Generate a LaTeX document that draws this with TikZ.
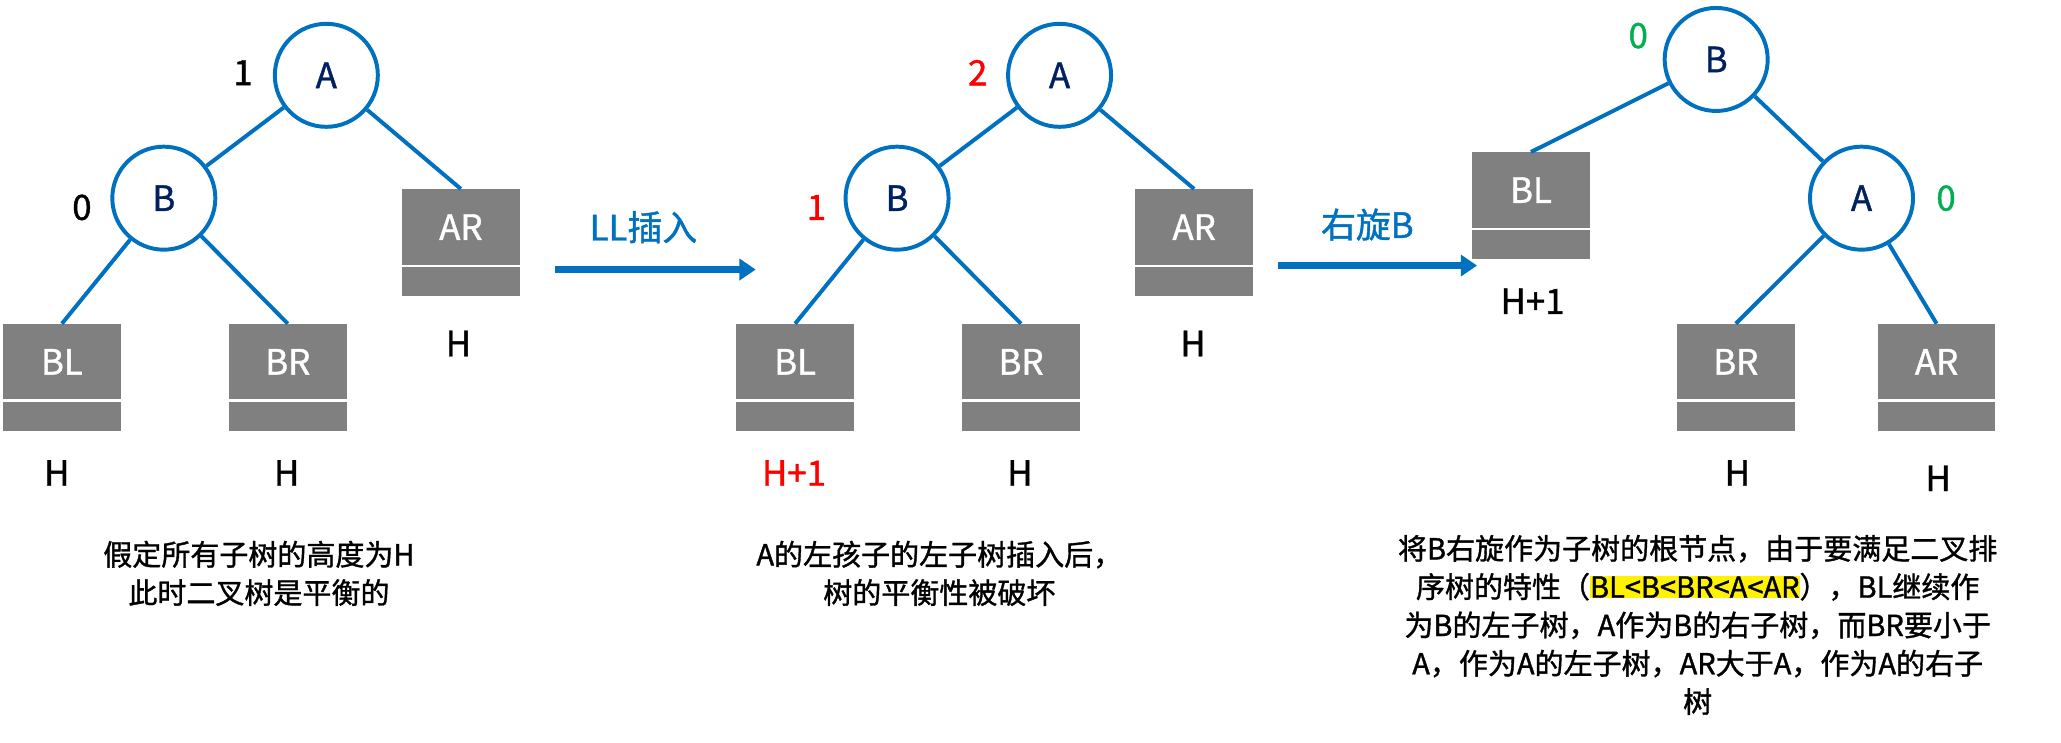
\documentclass[tikz,border=0pt]{standalone}
\usepackage{fontspec}
\setmainfont{Noto Sans CJK SC}[FakeBold=1.2]
\usetikzlibrary{arrows.meta}
\definecolor{cblue}{HTML}{0070C0}
\definecolor{navy}{HTML}{002060}
\definecolor{cgreen}{HTML}{00B050}
\begin{document}
\begin{tikzpicture}[x=0.02cm,y=-0.02cm,
  circ/.style={circle,draw=cblue,line width=1.7pt,minimum size=1.56cm,inner sep=0pt,font=\fontsize{15}{16}\selectfont,text=navy},
  sub/.style={fill=black!50,minimum width=1.78cm,minimum height=1.14cm,inner sep=0pt,text=white,font=\fontsize{15}{16}\selectfont,anchor=north west},
  low/.style={fill=black!50,minimum width=1.78cm,minimum height=0.44cm,inner sep=0pt,anchor=north west},
  edge/.style={cblue,line width=1.7pt},
  lab/.style={font=\fontsize{15}{16}\selectfont},
  txt/.style={font=\fontsize{12.5}{16.5}\selectfont,align=center},
  arr/.style={cblue,line width=3pt,-{Triangle[length=7pt,width=9pt]}}]
\useasboundingbox (0,0) rectangle (1560,562);
% panel 1
\node[circ] (A1) at (247,57) {A};
\node[circ] (B1) at (124,150) {B};
\node[sub] (AR1) at (304,143) {AR}; \node[low] (ARl1) at (304,202) {};
\node[sub] (BL1) at (2,245) {BL}; \node[low] (BLl1) at (2,304) {};
\node[sub] (BR1) at (173,245) {BR}; \node[low] (BRl1) at (173,304) {};
\draw[edge] (A1) -- (B1);
\draw[edge] (A1) -- (AR1.north);
\draw[edge] (B1) -- (BL1.north);
\draw[edge] (B1) -- (BR1.north);
\node[lab] (n1) at (184,55) {1};
\node[lab] (n0) at (62,157) {0};
\node[lab] (h1) at (347,260) {H};
\node[lab] (h2) at (43,358) {H};
\node[lab] (h3) at (217,358) {H};
\node[txt] (t1) at (196,434) {假定所有子树的高度为H\\此时二叉树是平衡的};
% arrow 1
\coordinate (a1s) at (420,204); \coordinate (a1e) at (572,204);
\draw[arr] (a1s) -- (a1e);
\node[lab,text=cblue] (l1) at (487,172) {LL插入};
% panel 2
\node[circ] (A2) at (802,57) {A};
\node[circ] (B2) at (679,150) {B};
\node[sub] (AR2) at (859,143) {AR}; \node[low] (ARl2) at (859,202) {};
\node[sub] (BL2) at (557,245) {BL}; \node[low] (BLl2) at (557,304) {};
\node[sub] (BR2) at (728,245) {BR}; \node[low] (BRl2) at (728,304) {};
\draw[edge] (A2) -- (B2);
\draw[edge] (A2) -- (AR2.north);
\draw[edge] (B2) -- (BL2.north);
\draw[edge] (B2) -- (BR2.north);
\node[lab,text=red] (m2) at (740,55) {2};
\node[lab,text=red] (m1) at (618,157) {1};
\node[lab] (g1) at (903,260) {H};
\node[lab,text=red] (g2) at (601,358) {H+1};
\node[lab] (g3) at (772,358) {H};
\node[txt] (t2) at (711,434) {A的左孩子的左子树插入后，\\树的平衡性被破坏};
% arrow 2
\coordinate (a2s) at (967,201); \coordinate (a2e) at (1118,201);
\draw[arr] (a2s) -- (a2e);
\node[lab,text=cblue] (l2) at (1035,170) {右旋B};
% panel 3
\node[circ] (B3) at (1299,45) {B};
\node[circ] (A3) at (1409,150) {A};
\node[sub] (BL3) at (1114,115) {BL}; \node[low] (BLl3) at (1114,174) {};
\node[sub] (BR3) at (1269,245) {BR}; \node[low] (BRl3) at (1269,304) {};
\node[sub] (AR3) at (1421,245) {AR}; \node[low] (ARl3) at (1421,304) {};
\draw[edge] (B3) -- (BL3.north);
\draw[edge] (B3) -- (A3);
\draw[edge] (A3) -- (BR3.north);
\draw[edge] (A3) -- (AR3.north);
\node[lab,text=cgreen] (k1) at (1240,27) {0};
\node[lab,text=cgreen] (k2) at (1473,150) {0};
\node[lab] (f1) at (1160,228) {H+1};
\node[lab] (f2) at (1315,358) {H};
\node[lab] (f3) at (1467,362) {H};
\node[txt] (t3) at (1285,473) {将B右旋作为子树的根节点，由于要满足二叉排\\序树的特性（{\setlength{\fboxsep}{0pt}\colorbox{yellow}{BL<B<BR<A<AR}}），BL继续作\\为B的左子树，A作为B的右子树，而BR要小于\\A，作为A的左子树，AR大于A，作为A的右子\\树};
\end{tikzpicture}
\end{document}
